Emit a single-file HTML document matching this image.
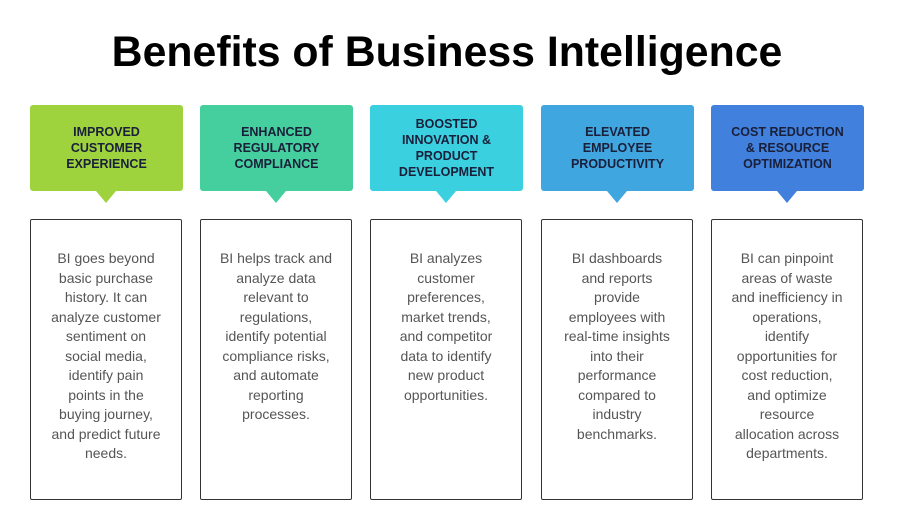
<!DOCTYPE html>
<html><head><style>
body{margin:0;width:898px;height:532px;background:#fff;position:relative;font-family:"Liberation Sans",sans-serif;overflow:hidden}
h1{position:absolute;top:24px;left:0;width:894px;text-align:center;margin:0;font-size:42.8px;font-weight:bold;color:#000;line-height:56px}
.h{position:absolute;top:105px;width:153px;height:86px;border-radius:3px;display:flex;align-items:center;justify-content:center;text-align:center;font-weight:bold;font-size:12.5px;line-height:16px;color:#1a1f3a}
.h:after{content:"";position:absolute;left:66px;top:86px;border-left:10px solid transparent;border-right:10px solid transparent;border-top:12px solid var(--c)}
.b{position:absolute;top:219px;width:150px;height:279px;border:1.5px solid #333;border-radius:2px;text-align:center;font-size:14px;line-height:19.5px;color:#555;box-sizing:content-box;white-space:nowrap}
.b div{padding-top:29px}
</style></head><body>
<h1>Benefits of Business Intelligence</h1>
<div class="h" style="left:30px;background:#9fd33d;--c:#9fd33d">IMPROVED<br>CUSTOMER<br>EXPERIENCE</div>
<div class="h" style="left:200px;background:#45cf9e;--c:#45cf9e">ENHANCED<br>REGULATORY<br>COMPLIANCE</div>
<div class="h" style="left:370px;background:#3ad0e0;--c:#3ad0e0">BOOSTED<br>INNOVATION &amp;<br>PRODUCT<br>DEVELOPMENT</div>
<div class="h" style="left:541px;background:#40a6e0;--c:#40a6e0">ELEVATED<br>EMPLOYEE<br>PRODUCTIVITY</div>
<div class="h" style="left:711px;background:#4180dc;--c:#4180dc">COST REDUCTION<br>&amp; RESOURCE<br>OPTIMIZATION</div>
<div class="b" style="left:30px"><div>BI goes beyond<br>basic purchase<br>history. It can<br>analyze customer<br>sentiment on<br>social media,<br>identify pain<br>points in the<br>buying journey,<br>and predict future<br>needs.</div></div>
<div class="b" style="left:200px"><div>BI helps track and<br>analyze data<br>relevant to<br>regulations,<br>identify potential<br>compliance risks,<br>and automate<br>reporting<br>processes.</div></div>
<div class="b" style="left:370px"><div>BI analyzes<br>customer<br>preferences,<br>market trends,<br>and competitor<br>data to identify<br>new product<br>opportunities.</div></div>
<div class="b" style="left:541px"><div>BI dashboards<br>and reports<br>provide<br>employees with<br>real-time insights<br>into their<br>performance<br>compared to<br>industry<br>benchmarks.</div></div>
<div class="b" style="left:711px"><div>BI can pinpoint<br>areas of waste<br>and inefficiency in<br>operations,<br>identify<br>opportunities for<br>cost reduction,<br>and optimize<br>resource<br>allocation across<br>departments.</div></div>
</body></html>
